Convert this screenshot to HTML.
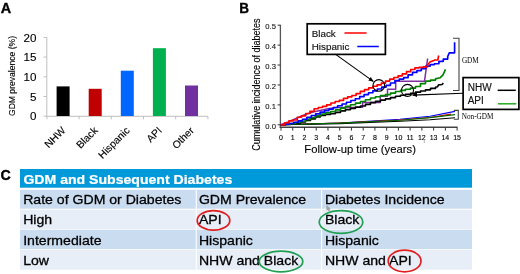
<!DOCTYPE html>
<html><head><meta charset="utf-8"><style>
html,body{margin:0;padding:0;background:#fff;width:520px;height:274px;overflow:hidden;}
svg{display:block;will-change:transform;filter:blur(0.3px);}
</style></head><body>
<svg width="520" height="274" viewBox="0 0 520 274">
<rect width="520" height="274" fill="#fff"/>
<text transform="translate(0.7,12.5) scale(0.95,1)" font-family="Liberation Sans, sans-serif" font-weight="bold" font-size="15.2" fill="#000" stroke="#000" stroke-width="0.35">A</text>
<line x1="46.8" y1="37" x2="46.8" y2="116.3" stroke="#BFBFBF" stroke-width="1"/>
<line x1="43.5" y1="116.20" x2="46.8" y2="116.20" stroke="#BFBFBF" stroke-width="1"/>
<text x="36.4" y="120.30" font-family="Liberation Sans, sans-serif" font-size="11.6" text-anchor="end" fill="#000" stroke="#000" stroke-width="0.12">0</text>
<line x1="43.5" y1="96.50" x2="46.8" y2="96.50" stroke="#BFBFBF" stroke-width="1"/>
<text x="36.4" y="100.60" font-family="Liberation Sans, sans-serif" font-size="11.6" text-anchor="end" fill="#000" stroke="#000" stroke-width="0.12">5</text>
<line x1="43.5" y1="76.80" x2="46.8" y2="76.80" stroke="#BFBFBF" stroke-width="1"/>
<text x="36.4" y="80.90" font-family="Liberation Sans, sans-serif" font-size="11.6" text-anchor="end" fill="#000" stroke="#000" stroke-width="0.12">10</text>
<line x1="43.5" y1="57.10" x2="46.8" y2="57.10" stroke="#BFBFBF" stroke-width="1"/>
<text x="36.4" y="61.20" font-family="Liberation Sans, sans-serif" font-size="11.6" text-anchor="end" fill="#000" stroke="#000" stroke-width="0.12">15</text>
<line x1="43.5" y1="37.40" x2="46.8" y2="37.40" stroke="#BFBFBF" stroke-width="1"/>
<text x="36.4" y="41.50" font-family="Liberation Sans, sans-serif" font-size="11.6" text-anchor="end" fill="#000" stroke="#000" stroke-width="0.12">20</text>
<line x1="46.3" y1="116.3" x2="208" y2="116.3" stroke="#BFBFBF" stroke-width="1"/>
<line x1="46.90" y1="116.3" x2="46.90" y2="119.3" stroke="#BFBFBF" stroke-width="1"/>
<line x1="79.10" y1="116.3" x2="79.10" y2="119.3" stroke="#BFBFBF" stroke-width="1"/>
<line x1="111.30" y1="116.3" x2="111.30" y2="119.3" stroke="#BFBFBF" stroke-width="1"/>
<line x1="143.50" y1="116.3" x2="143.50" y2="119.3" stroke="#BFBFBF" stroke-width="1"/>
<line x1="175.70" y1="116.3" x2="175.70" y2="119.3" stroke="#BFBFBF" stroke-width="1"/>
<line x1="207.90" y1="116.3" x2="207.90" y2="119.3" stroke="#BFBFBF" stroke-width="1"/>
<rect x="56.60" y="86.4" width="13" height="29.60" fill="#000000"/>
<text transform="translate(66.20,131.2) rotate(-45)" font-family="Liberation Sans, sans-serif" font-size="10.3" text-anchor="end" fill="#000" stroke="#000" stroke-width="0.12">NHW</text>
<rect x="88.70" y="88.8" width="13" height="27.20" fill="#C00000"/>
<text transform="translate(98.30,131.2) rotate(-45)" font-family="Liberation Sans, sans-serif" font-size="10.3" text-anchor="end" fill="#000" stroke="#000" stroke-width="0.12">Black</text>
<rect x="120.80" y="70.7" width="13" height="45.30" fill="#0066FF"/>
<text transform="translate(130.40,131.2) rotate(-45)" font-family="Liberation Sans, sans-serif" font-size="10.3" text-anchor="end" fill="#000" stroke="#000" stroke-width="0.12">Hispanic</text>
<rect x="152.90" y="48.2" width="13" height="67.80" fill="#00B050"/>
<text transform="translate(162.50,131.2) rotate(-45)" font-family="Liberation Sans, sans-serif" font-size="10.3" text-anchor="end" fill="#000" stroke="#000" stroke-width="0.12">API</text>
<rect x="185.00" y="85.5" width="13" height="30.50" fill="#7030A0"/>
<text transform="translate(194.60,131.2) rotate(-45)" font-family="Liberation Sans, sans-serif" font-size="10.3" text-anchor="end" fill="#000" stroke="#000" stroke-width="0.12">Other</text>
<text transform="translate(15.3,76) rotate(-90) scale(0.885,1)" font-family="Liberation Sans, sans-serif" font-size="9.7" text-anchor="middle" fill="#000" stroke="#000" stroke-width="0.12">GDM prevalence (%)</text>
<text transform="translate(239.2,12.9) scale(0.9,1)" font-family="Liberation Sans, sans-serif" font-weight="bold" font-size="15" fill="#000" stroke="#000" stroke-width="0.35">B</text>
<text transform="translate(260.4,84.6) rotate(-90) scale(0.86,1)" font-family="Liberation Sans, sans-serif" font-size="10.5" text-anchor="middle" fill="#000" stroke="#000" stroke-width="0.12">Cumulative incidence of diabetes</text>
<line x1="280.4" y1="24.8" x2="280.4" y2="128" stroke="#555" stroke-width="1.3"/>
<line x1="277.6" y1="124.80" x2="280.4" y2="124.80" stroke="#333" stroke-width="1"/>
<text x="276" y="128.90" font-family="Liberation Sans, sans-serif" font-size="7.7" text-anchor="end" fill="#111" stroke="#111" stroke-width="0.1">0.0</text>
<line x1="277.6" y1="104.88" x2="280.4" y2="104.88" stroke="#333" stroke-width="1"/>
<text x="276" y="108.98" font-family="Liberation Sans, sans-serif" font-size="7.7" text-anchor="end" fill="#111" stroke="#111" stroke-width="0.1">0.1</text>
<line x1="277.6" y1="84.96" x2="280.4" y2="84.96" stroke="#333" stroke-width="1"/>
<text x="276" y="89.06" font-family="Liberation Sans, sans-serif" font-size="7.7" text-anchor="end" fill="#111" stroke="#111" stroke-width="0.1">0.2</text>
<line x1="277.6" y1="65.04" x2="280.4" y2="65.04" stroke="#333" stroke-width="1"/>
<text x="276" y="69.14" font-family="Liberation Sans, sans-serif" font-size="7.7" text-anchor="end" fill="#111" stroke="#111" stroke-width="0.1">0.3</text>
<line x1="277.6" y1="45.12" x2="280.4" y2="45.12" stroke="#333" stroke-width="1"/>
<text x="276" y="49.22" font-family="Liberation Sans, sans-serif" font-size="7.7" text-anchor="end" fill="#111" stroke="#111" stroke-width="0.1">0.4</text>
<line x1="277.6" y1="25.20" x2="280.4" y2="25.20" stroke="#333" stroke-width="1"/>
<text x="276" y="29.30" font-family="Liberation Sans, sans-serif" font-size="7.7" text-anchor="end" fill="#111" stroke="#111" stroke-width="0.1">0.5</text>
<line x1="279.7" y1="127.3" x2="457.5" y2="127.3" stroke="#444" stroke-width="1.4"/>
<line x1="281.00" y1="127.3" x2="281.00" y2="130.6" stroke="#333" stroke-width="1"/>
<text x="281.00" y="139.6" font-family="Liberation Sans, sans-serif" font-size="7" text-anchor="middle" fill="#000" stroke="#000" stroke-width="0.12">0</text>
<line x1="292.74" y1="127.3" x2="292.74" y2="130.6" stroke="#333" stroke-width="1"/>
<text x="292.74" y="139.6" font-family="Liberation Sans, sans-serif" font-size="7" text-anchor="middle" fill="#000" stroke="#000" stroke-width="0.12">1</text>
<line x1="304.48" y1="127.3" x2="304.48" y2="130.6" stroke="#333" stroke-width="1"/>
<text x="304.48" y="139.6" font-family="Liberation Sans, sans-serif" font-size="7" text-anchor="middle" fill="#000" stroke="#000" stroke-width="0.12">2</text>
<line x1="316.22" y1="127.3" x2="316.22" y2="130.6" stroke="#333" stroke-width="1"/>
<text x="316.22" y="139.6" font-family="Liberation Sans, sans-serif" font-size="7" text-anchor="middle" fill="#000" stroke="#000" stroke-width="0.12">3</text>
<line x1="327.96" y1="127.3" x2="327.96" y2="130.6" stroke="#333" stroke-width="1"/>
<text x="327.96" y="139.6" font-family="Liberation Sans, sans-serif" font-size="7" text-anchor="middle" fill="#000" stroke="#000" stroke-width="0.12">4</text>
<line x1="339.70" y1="127.3" x2="339.70" y2="130.6" stroke="#333" stroke-width="1"/>
<text x="339.70" y="139.6" font-family="Liberation Sans, sans-serif" font-size="7" text-anchor="middle" fill="#000" stroke="#000" stroke-width="0.12">5</text>
<line x1="351.44" y1="127.3" x2="351.44" y2="130.6" stroke="#333" stroke-width="1"/>
<text x="351.44" y="139.6" font-family="Liberation Sans, sans-serif" font-size="7" text-anchor="middle" fill="#000" stroke="#000" stroke-width="0.12">6</text>
<line x1="363.18" y1="127.3" x2="363.18" y2="130.6" stroke="#333" stroke-width="1"/>
<text x="363.18" y="139.6" font-family="Liberation Sans, sans-serif" font-size="7" text-anchor="middle" fill="#000" stroke="#000" stroke-width="0.12">7</text>
<line x1="374.92" y1="127.3" x2="374.92" y2="130.6" stroke="#333" stroke-width="1"/>
<text x="374.92" y="139.6" font-family="Liberation Sans, sans-serif" font-size="7" text-anchor="middle" fill="#000" stroke="#000" stroke-width="0.12">8</text>
<line x1="386.66" y1="127.3" x2="386.66" y2="130.6" stroke="#333" stroke-width="1"/>
<text x="386.66" y="139.6" font-family="Liberation Sans, sans-serif" font-size="7" text-anchor="middle" fill="#000" stroke="#000" stroke-width="0.12">9</text>
<line x1="398.40" y1="127.3" x2="398.40" y2="130.6" stroke="#333" stroke-width="1"/>
<text x="398.40" y="139.6" font-family="Liberation Sans, sans-serif" font-size="7" text-anchor="middle" fill="#000" stroke="#000" stroke-width="0.12">10</text>
<line x1="410.14" y1="127.3" x2="410.14" y2="130.6" stroke="#333" stroke-width="1"/>
<text x="410.14" y="139.6" font-family="Liberation Sans, sans-serif" font-size="7" text-anchor="middle" fill="#000" stroke="#000" stroke-width="0.12">11</text>
<line x1="421.88" y1="127.3" x2="421.88" y2="130.6" stroke="#333" stroke-width="1"/>
<text x="421.88" y="139.6" font-family="Liberation Sans, sans-serif" font-size="7" text-anchor="middle" fill="#000" stroke="#000" stroke-width="0.12">12</text>
<line x1="433.62" y1="127.3" x2="433.62" y2="130.6" stroke="#333" stroke-width="1"/>
<text x="433.62" y="139.6" font-family="Liberation Sans, sans-serif" font-size="7" text-anchor="middle" fill="#000" stroke="#000" stroke-width="0.12">13</text>
<line x1="445.36" y1="127.3" x2="445.36" y2="130.6" stroke="#333" stroke-width="1"/>
<text x="445.36" y="139.6" font-family="Liberation Sans, sans-serif" font-size="7" text-anchor="middle" fill="#000" stroke="#000" stroke-width="0.12">14</text>
<line x1="457.10" y1="127.3" x2="457.10" y2="130.6" stroke="#333" stroke-width="1"/>
<text x="457.10" y="139.6" font-family="Liberation Sans, sans-serif" font-size="7" text-anchor="middle" fill="#000" stroke="#000" stroke-width="0.12">15</text>
<text transform="translate(304.3,152.9) scale(1,0.9)" font-family="Liberation Sans, sans-serif" font-size="11.3" fill="#000" stroke="#000" stroke-width="0.12">Follow-up time (years)</text>
<polyline points="280.5,124.8 340,123.1 400,119.2 430,116.2 455,111.4" fill="none" stroke="#00f" stroke-width="1.1" stroke-linejoin="round"/>
<polyline points="280.5,124.8 340,123 400,120 430,117.5 451,114.1" fill="none" stroke="#e00" stroke-width="1.1" stroke-linejoin="round"/>
<polyline points="280.5,124.8 340,123.6 400,121.2 430,119.8 455,117.8" fill="none" stroke="#000" stroke-width="1.1" stroke-linejoin="round"/>
<polyline points="280.5,124.8 340,123.1 400,120.3 430,117.6 455,114.6" fill="none" stroke="#006a00" stroke-width="1.1" stroke-linejoin="round"/>
<polyline points="280.5,124.8 288,122 296,118.5 304,115 312,112.3 320,110.5 328,108.8 336,107.5 362.6,107.2 362.6,102.5 380.3,102.5 380.3,96.3 387.5,96.3 387.5,89.2 395.7,89.2 395.7,81.2 424.5,81.2 427.5,59.3 428.3,59.1" fill="none" stroke="#8030A0" stroke-width="1.5" stroke-linejoin="round"/>
<polyline points="280.5,124.8 285.5,124.8 285.5,124.54 290.5,124.54 290.5,124.28 295.5,124.28 295.5,123.33 300.5,123.33 300.5,122.04 305.5,122.04 305.5,120.44 310.5,120.44 310.5,118.8 315.5,118.8 315.5,116.8 320.5,116.8 320.5,115.35 325.5,115.35 325.5,114.46 330.5,114.46 330.5,113.56 335.5,113.56 335.5,112.35 340.5,112.35 340.5,110.93 345.5,110.93 345.5,109.55 350.5,109.55 350.5,108.3 355.5,108.3 355.5,107.18 360.5,107.18 360.5,105.97 365.5,105.97 365.5,104.3 370.5,104.3 370.5,102.63 375.5,102.63 375.5,101.31 380.5,101.31 380.5,100.11 385.5,100.11 385.5,98.91 390.5,98.91 390.5,97.58 395.5,97.58 395.5,96.2 400.5,96.2 400.5,95.2 405.5,95.2 405.5,94.2 410.5,94.2 410.5,93.2 415.5,93.2 415.5,92.16 420.5,92.16 420.5,91.03 425.5,91.03 425.5,89.83 430.5,89.83 430.5,88.42 435.5,88.42 435.5,87.24 437.5,86.8 438.5,84.9 442,84.5 443.4,83.2" fill="none" stroke="#000" stroke-width="1.65" stroke-linejoin="round"/>
<polyline points="280.5,124.8 285.5,124.8 285.5,124.27 290.5,124.27 290.5,123.66 295.5,123.66 295.5,122.47 300.5,122.47 300.5,121.22 305.5,121.22 305.5,119.42 310.5,119.42 310.5,117.62 315.5,117.62 315.5,115.88 320.5,115.88 320.5,114.17 325.5,114.17 325.5,112.85 330.5,112.85 330.5,111.53 335.5,111.53 335.5,109.9 340.5,109.9 340.5,108.07 345.5,108.07 345.5,106.29 350.5,106.29 350.5,104.72 355.5,104.72 355.5,103.17 360.5,103.17 360.5,101.51 365.5,101.51 365.5,99.74 370.5,99.74 370.5,97.96 375.5,97.96 375.5,96.73 380.5,96.73 380.5,95.68 385.5,95.68 385.5,94.64 390.5,94.64 390.5,93.18 395.5,93.18 395.5,91.49 400.5,91.49 400.5,90.38 405.5,90.38 405.5,89.28 410.5,89.28 410.5,88.17 415.5,88.17 415.5,86.52 420.5,86.52 420.5,83.56 425.5,83.56 425.5,81.17 430.5,81.17 430.5,80.07 435.5,80.07 435.5,78.92 440,77.8 443,74.8 445.5,69.3" fill="none" stroke="#008000" stroke-width="1.65" stroke-linejoin="round"/>
<polyline points="280.5,124.8 284.9,124.8 284.9,124.14 289.3,124.14 289.3,123.49 293.7,123.49 293.7,122.2 298.1,122.2 298.1,120.82 302.5,120.82 302.5,119.23 306.9,119.23 306.9,117.35 311.3,117.35 311.3,115.53 315.7,115.53 315.7,113.81 320.1,113.81 320.1,112.16 324.5,112.16 324.5,110.62 328.9,110.62 328.9,109.07 333.3,109.07 333.3,107.48 337.7,107.48 337.7,105.72 342.1,105.72 342.1,103.96 346.5,103.96 346.5,102.23 350.9,102.23 350.9,100.53 355.3,100.53 355.3,98.72 359.7,98.72 359.7,96.62 364.1,96.62 364.1,94.61 368.5,94.61 368.5,92.72 372.9,92.72 372.9,90.84 377.3,90.84 377.3,89.0 381.7,89.0 381.7,87.16 386.1,87.16 386.1,85.33 390.5,85.33 390.5,83.01 394.9,83.01 394.9,80.46 399.3,80.46 399.3,79.06 403.7,79.06 403.7,77.69 408.1,77.69 408.1,74.9 412.5,74.9 412.5,72.41 416.9,72.41 416.9,70.6 421.3,70.6 421.3,68.55 425.7,68.55 425.7,66.13 430.1,66.13 430.1,64.58 434.5,64.58 434.5,63.7 438.9,63.7 438.9,61.35 443.3,61.35 443.3,59.11 447.7,59.11 447.7,56.6 449.3,52.8 454.6,52.8 454.6,42.2" fill="none" stroke="#0000FF" stroke-width="1.65" stroke-linejoin="round"/>
<polyline points="280.5,124.8 284.7,124.8 284.7,122.7 288.9,122.7 288.9,120.84 293.1,120.84 293.1,119.99 297.3,119.99 297.3,117.24 301.5,117.24 301.5,115.83 305.7,115.83 305.7,113.45 309.9,113.45 309.9,111.32 314.1,111.32 314.1,108.74 318.3,108.74 318.3,107.49 322.5,107.49 322.5,106.43 326.7,106.43 326.7,104.9 330.9,104.9 330.9,102.95 335.1,102.95 335.1,101.51 339.3,101.51 339.3,100.41 343.5,100.41 343.5,98.32 347.7,98.32 347.7,96.84 351.9,96.84 351.9,95.53 356.1,95.53 356.1,93.57 360.3,93.57 360.3,91.43 364.5,91.43 364.5,89.65 368.7,89.65 368.7,87.89 372.9,87.89 372.9,86.24 377.1,86.24 377.1,84.86 381.3,84.86 381.3,83.19 385.5,83.19 385.5,81.06 389.7,81.06 389.7,79.15 393.9,79.15 393.9,77.45 398.1,77.45 398.1,75.8 402.3,75.8 402.3,73.92 406.5,73.92 406.5,71.66 410.7,71.66 410.7,69.5 414.9,69.5 414.9,67.93 419.1,67.93 419.1,67.3 423.3,67.3 423.3,66.93 427.5,66.93 427.5,64.73 430,62 435,60 437.8,60 438.7,55.5" fill="none" stroke="#FF0000" stroke-width="1.65" stroke-linejoin="round"/>
<path d="M453,38.2 H459 V90.5 H453" fill="none" stroke="#444" stroke-width="1.1"/>
<path d="M453.8,110.4 H458.3 V119.2 H453.8" fill="none" stroke="#444" stroke-width="1.1"/>
<text x="461.9" y="63" font-family="Liberation Serif, serif" font-size="7.2" fill="#000">GDM</text>
<text x="461.8" y="118.5" font-family="Liberation Serif, serif" font-size="7.2" fill="#000">Non-GDM</text>
<rect x="307.2" y="23.8" width="78.2" height="30.6" fill="#fff" stroke="#000" stroke-width="1.7"/>
<text x="311.8" y="36.9" font-family="Liberation Sans, sans-serif" font-size="9.8" fill="#111" stroke="#111" stroke-width="0.15">Black</text>
<text x="311.8" y="50" font-family="Liberation Sans, sans-serif" font-size="9.8" fill="#111" stroke="#111" stroke-width="0.15">Hispanic</text>
<line x1="344.5" y1="33" x2="366.6" y2="33" stroke="#f00" stroke-width="1.5"/>
<line x1="357.3" y1="46.5" x2="378.8" y2="46.5" stroke="#00f" stroke-width="1.5"/>
<rect x="463.1" y="77.6" width="55.8" height="31.8" fill="#fff" stroke="#000" stroke-width="1.7"/>
<text x="467.7" y="90.8" font-family="Liberation Sans, sans-serif" font-size="10" fill="#111" stroke="#111" stroke-width="0.15">NHW</text>
<text x="467.7" y="104.1" font-family="Liberation Sans, sans-serif" font-size="10" fill="#111" stroke="#111" stroke-width="0.15">API</text>
<line x1="497.7" y1="90.3" x2="515.8" y2="90.3" stroke="#000" stroke-width="1.5"/>
<line x1="498" y1="103.8" x2="516.3" y2="103.8" stroke="#22aa22" stroke-width="1.5"/>
<circle cx="378.8" cy="85.4" r="5.8" fill="none" stroke="#000" stroke-width="1.1"/>
<circle cx="407.5" cy="90.4" r="6" fill="none" stroke="#000" stroke-width="1.1"/>
<defs><marker id="ah" markerWidth="5" markerHeight="4.4" refX="4.6" refY="2.2" orient="auto" markerUnits="userSpaceOnUse"><path d="M0,0 L5,2.2 L0,4.4 Z" fill="#000"/></marker></defs>
<line x1="336" y1="54.6" x2="373.3" y2="81.4" stroke="#000" stroke-width="1.1" marker-end="url(#ah)"/>
<line x1="463" y1="93.3" x2="412.6" y2="95.1" stroke="#000" stroke-width="1.1" marker-end="url(#ah)"/>
<line x1="424.3" y1="139.6" x2="424.3" y2="143" stroke="#999" stroke-width="0.8"/>
<text transform="translate(0.4,179.8) scale(0.95,1)" font-family="Liberation Sans, sans-serif" font-weight="bold" font-size="15" fill="#000" stroke="#000" stroke-width="0.35">C</text>
<rect x="20" y="169" width="452" height="18.7" fill="#0099DA"/>
<rect x="20" y="189.8" width="452" height="18.9" fill="#CADCF0"/>
<rect x="20" y="209.7" width="452" height="19.3" fill="#E7EEF8"/>
<rect x="20" y="229.7" width="452" height="19.5" fill="#CADCF0"/>
<rect x="20" y="250.0" width="452" height="19.7" fill="#E7EEF8"/>
<rect x="195.7" y="189" width="1.1" height="81" fill="#fff"/>
<rect x="321.1" y="189" width="1.1" height="81" fill="#fff"/>
<text transform="translate(23.4,183.6) scale(1.075,1)" font-family="Liberation Sans, sans-serif" font-size="13.1" font-weight="bold" fill="#fff" stroke="#fff" stroke-width="0.25">GDM and Subsequent Diabetes</text>
<text transform="translate(23.2,203.7) scale(1.06,1)" font-family="Liberation Sans, sans-serif" font-size="13.3" fill="#000" stroke="#000" stroke-width="0.3">Rate of GDM or Diabetes</text>
<text transform="translate(198.9,203.7) scale(1.06,1)" font-family="Liberation Sans, sans-serif" font-size="13.3" fill="#000" stroke="#000" stroke-width="0.3">GDM Prevalence</text>
<text transform="translate(324.9,203.7) scale(1.06,1)" font-family="Liberation Sans, sans-serif" font-size="13.3" fill="#000" stroke="#000" stroke-width="0.3">Diabetes Incidence</text>
<text transform="translate(23.2,224.3) scale(1.06,1)" font-family="Liberation Sans, sans-serif" font-size="13.3" fill="#000" stroke="#000" stroke-width="0.3">High</text>
<text transform="translate(198.9,224.3) scale(1.06,1)" font-family="Liberation Sans, sans-serif" font-size="13.3" fill="#000" stroke="#000" stroke-width="0.3">API</text>
<text transform="translate(324.9,224.3) scale(1.06,1)" font-family="Liberation Sans, sans-serif" font-size="13.3" fill="#000" stroke="#000" stroke-width="0.3">Black</text>
<text transform="translate(23.2,244.6) scale(1.06,1)" font-family="Liberation Sans, sans-serif" font-size="13.3" fill="#000" stroke="#000" stroke-width="0.3">Intermediate</text>
<text transform="translate(198.9,244.6) scale(1.06,1)" font-family="Liberation Sans, sans-serif" font-size="13.3" fill="#000" stroke="#000" stroke-width="0.3">Hispanic</text>
<text transform="translate(324.9,244.6) scale(1.06,1)" font-family="Liberation Sans, sans-serif" font-size="13.3" fill="#000" stroke="#000" stroke-width="0.3">Hispanic</text>
<text transform="translate(23.2,265.0) scale(1.06,1)" font-family="Liberation Sans, sans-serif" font-size="13.3" fill="#000" stroke="#000" stroke-width="0.3">Low</text>
<text transform="translate(198.9,265.0) scale(1.06,1)" font-family="Liberation Sans, sans-serif" font-size="13.3" fill="#000" stroke="#000" stroke-width="0.3">NHW and Black</text>
<text transform="translate(324.9,265.0) scale(1.06,1)" font-family="Liberation Sans, sans-serif" font-size="13.3" fill="#000" stroke="#000" stroke-width="0.3">NHW and API</text>
<path d="M326.8,205.6 L326.8,210.3 L327.9,209.3 L328.9,211.1 L329.7,210.7 L328.8,208.9 L330.3,208.9 Z" fill="#aaa" stroke="#777" stroke-width="0.4"/>
<ellipse cx="213.5" cy="220.4" rx="16.3" ry="9.8" fill="none" stroke="#E02020" stroke-width="1.7"/>
<ellipse cx="281" cy="261.5" rx="21.8" ry="10.3" fill="none" stroke="#20A050" stroke-width="1.7"/>
<ellipse cx="341" cy="222" rx="21.8" ry="11.3" fill="none" stroke="#20A050" stroke-width="1.7"/>
<ellipse cx="404.6" cy="261" rx="16.4" ry="10.8" fill="none" stroke="#E02020" stroke-width="1.7"/>
</svg>
</body></html>
